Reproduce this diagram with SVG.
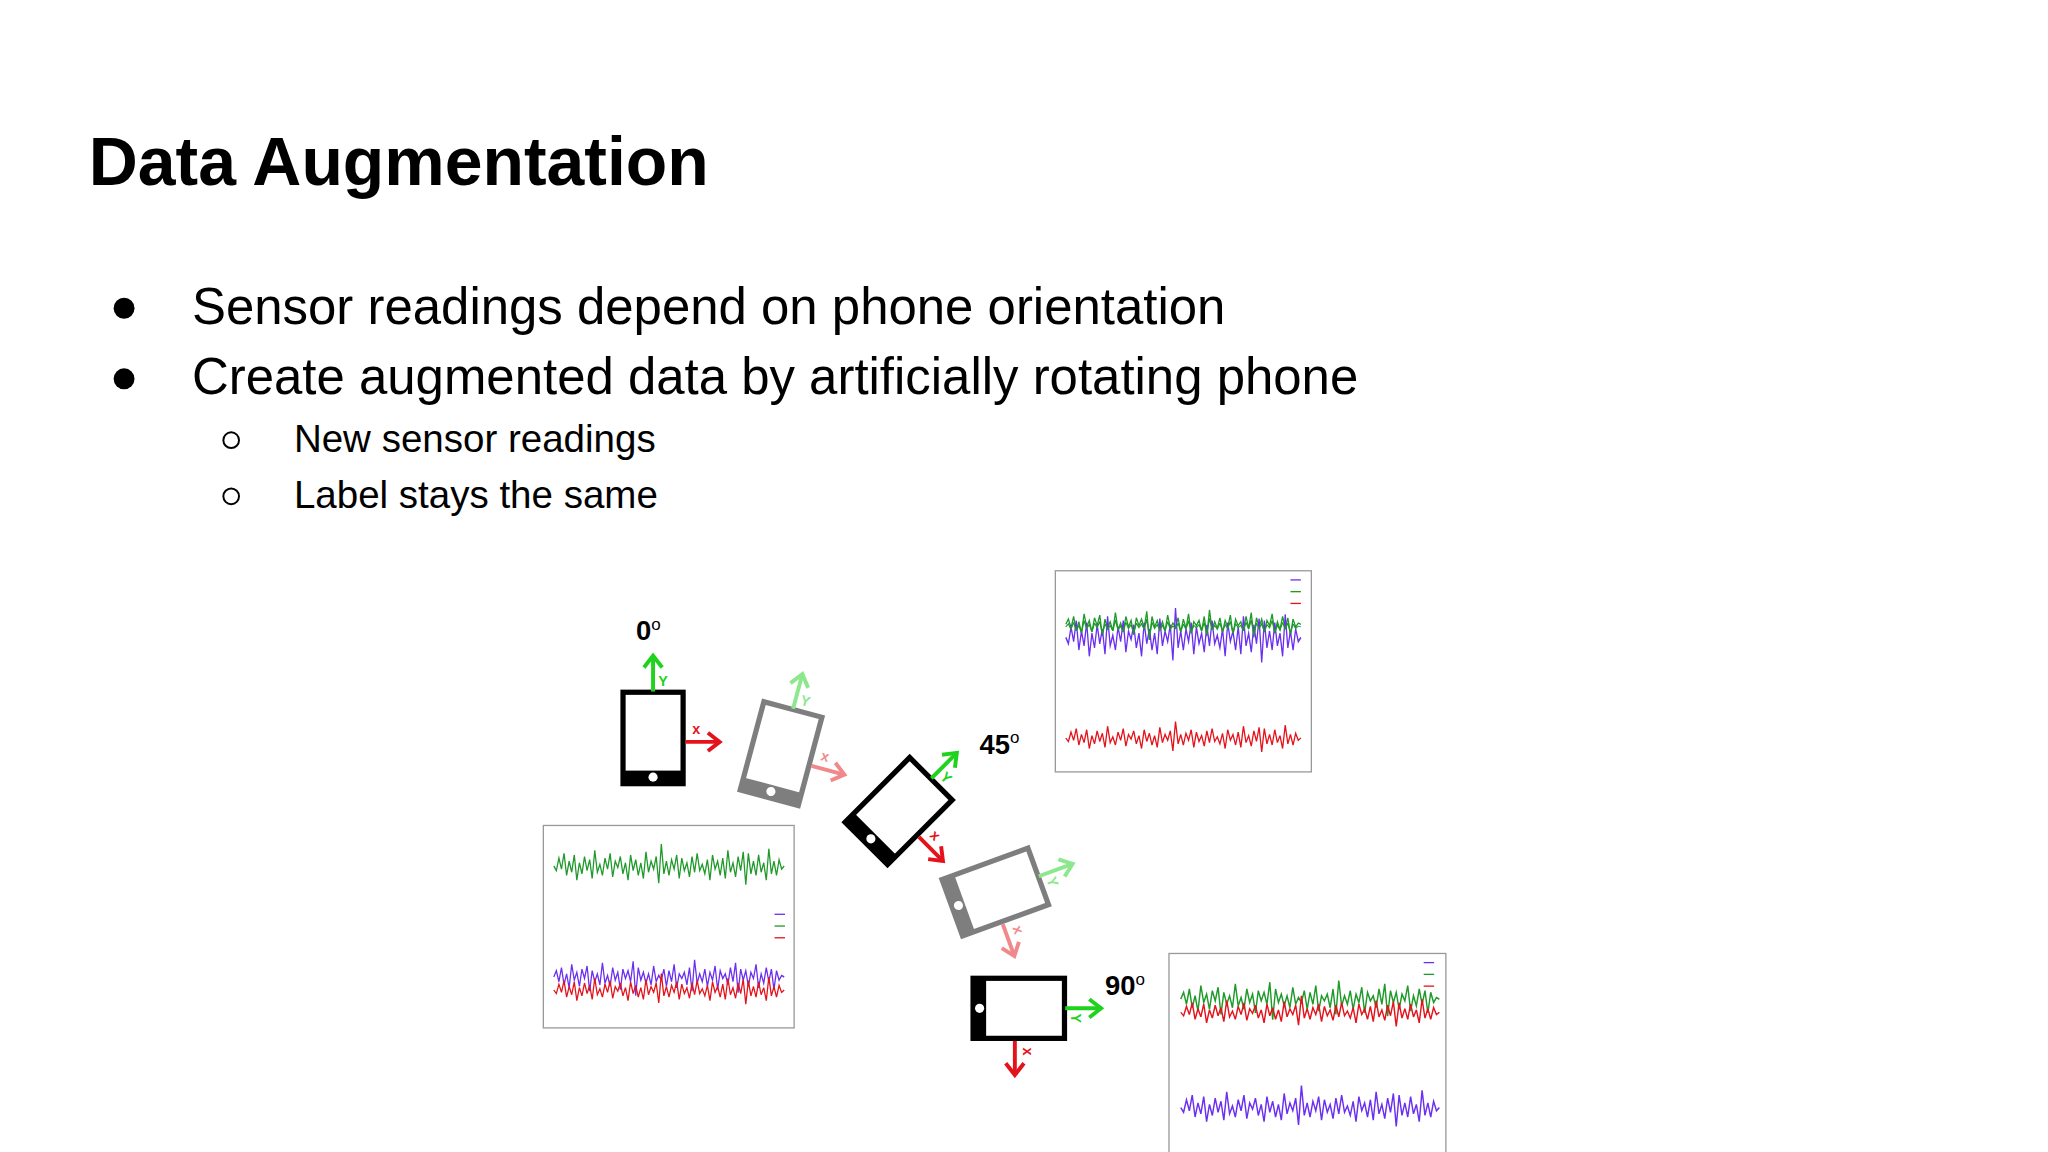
<svg xmlns="http://www.w3.org/2000/svg" xmlns:xlink="http://www.w3.org/1999/xlink" width="2048" height="1152" viewBox="0 0 2048 1152">
<style>
.t{font-family:"Liberation Sans",Arial,sans-serif;fill:#000}
.frame{fill:#fff;stroke:#999;stroke-width:1}
.n{fill:none;stroke-width:1;vector-effect:non-scaling-stroke}
.ph{fill:#fff;stroke:#000;stroke-width:4}
.ay{stroke:#1ed21e;stroke-width:3;fill:none}
.ax{stroke:#e4131b;stroke-width:3;fill:none}
.lab{font-family:"Liberation Sans",Arial,sans-serif;font-weight:bold}
</style>
<defs>
<polyline id="s1" points="0,0 2,-4 4,3 6,-6 8,5 10,-2 12,7 14,-8 16,2 18,-3 20,6 22,-5 24,1 26,-7 28,9 30,-4 32,3 34,-2 36,5 38,-9 40,4 42,-1 44,6 46,-6 48,2 50,-3 52,8 54,-5 56,1 58,-4 60,3 62,-10 64,12 66,-6 68,2 70,-3 72,4 74,-2 76,5 78,-7 80,3 82,-1 84,2 86,-5 88,6 90,-4 92,3 94,-8 96,7 98,-2 100,1 102,-3 104,5 106,-6 108,9 110,-11 112,4 114,-2 116,3 118,-5 120,6 122,-3 124,2 126,-7 128,8 130,-4 132,1 134,-2 136,5 138,-6 140,3 142,-9 144,10 146,-5 148,2 150,-4 152,6 154,-3 156,1 158,-8 160,7 162,-2 164,4 166,-6 168,3 170,-5 172,8 174,-4 176,2 178,-1 180,0"/>
<polyline id="s2" points="0,0 2,3 4,-5 6,2 8,-8 10,6 12,-3 14,4 16,-7 18,9 20,-2 22,5 24,-6 26,3 28,-4 30,8 32,-10 34,4 36,-1 38,6 40,-5 42,2 44,-8 46,7 48,-3 50,1 52,-6 54,5 56,-2 58,9 60,-7 62,3 64,-4 66,6 68,-2 70,8 72,-9 74,4 76,-3 78,2 80,-6 82,11 84,-14 86,5 88,-3 90,6 92,-4 94,2 96,-7 98,8 100,-5 102,3 104,-2 106,7 108,-6 110,4 112,-8 114,3 116,-1 118,5 120,-4 122,9 124,-7 126,2 128,-3 130,6 132,-5 134,8 136,-10 138,4 140,-2 142,7 144,-6 146,3 148,-9 150,12 152,-8 154,5 156,-3 158,6 160,-7 162,4 164,-2 166,9 168,-11 170,5 172,-3 174,6 176,-4 178,2 180,0"/>
<g id="phone">
<rect class="ph" x="-23" y="-35" width="46" height="70"/>
<rect x="-23" y="25" width="46" height="10" fill="#000"/>
<circle cx="0" cy="30" r="3.5" fill="#fff"/>
<line class="ay" x1="0" y1="-37" x2="0" y2="-62" stroke-linecap="square"/>
<polyline class="ay" points="-7,-54 0,-63 7,-54"/>
<text x="4" y="-40" font-size="11" fill="#1ed21e" class="lab">Y</text>
<line class="ax" x1="25" y1="3" x2="50" y2="3"/>
<polyline class="ax" points="42,-4 51,3 42,10"/>
<text x="30" y="-3" font-size="11" fill="#e4131b" class="lab">x</text>
</g>
</defs>
<rect width="2048" height="1152" fill="#fff"/>
<g transform="scale(1.30612)">
<g id="title"><text class="t" x="68" y="142" font-size="52" font-weight="bold">Data Augmentation</text></g>
<g id="bullets">
<circle cx="95" cy="236" r="8"/><text class="t" x="147" y="248" font-size="39">Sensor readings depend on phone orientation</text>
<circle cx="95" cy="290" r="8"/><text class="t" x="147" y="302" font-size="39">Create augmented data by artificially rotating phone</text>
<circle cx="177" cy="337" r="6" fill="none" stroke="#000" stroke-width="1.5"/><text class="t" x="225" y="346" font-size="29.5">New sensor readings</text>
<circle cx="177" cy="380" r="6" fill="none" stroke="#000" stroke-width="1.5"/><text class="t" x="225" y="389" font-size="29.5">Label stays the same</text>
</g>
<g id="chart45">
<rect class="frame" x="808" y="437" width="196" height="154"/>
<use href="#s1" class="n" stroke="#1f9a2a" transform="translate(816,478)"/>
<use href="#s2" class="n" stroke="#6a2ff0" transform="translate(816,488) scale(1,1.6)"/>
<use href="#s1" class="n" stroke="#1f9a2a" transform="translate(816,480) scale(1,0.6)"/>
<use href="#s2" class="n" stroke="#e4131b" transform="translate(816,565) scale(1,0.9)"/>
<line x1="988" y1="444" x2="996" y2="444" stroke="#6a2ff0"/><line x1="988" y1="453" x2="996" y2="453" stroke="#1f9a2a"/><line x1="988" y1="462" x2="996" y2="462" stroke="#e4131b"/>
</g>
<g id="chart0">
<rect class="frame" x="416" y="632" width="192" height="155"/>
<use href="#s2" class="n" stroke="#1f9a2a" transform="translate(424,663) scale(0.98,1.2)"/>
<use href="#s1" class="n" stroke="#6a2ff0" transform="translate(424,748) scale(0.98,1.2)"/>
<use href="#s2" class="n" stroke="#e4131b" transform="translate(424,758) scale(0.98,0.9)"/>
<line x1="593" y1="700" x2="601" y2="700" stroke="#6a2ff0"/><line x1="593" y1="709" x2="601" y2="709" stroke="#1f9a2a"/><line x1="593" y1="718" x2="601" y2="718" stroke="#e4131b"/>
</g>
<g id="chart90">
<rect class="frame" x="895" y="730" width="212" height="160"/>
<use href="#s1" class="n" stroke="#1f9a2a" transform="translate(904,765) scale(1.1,1.3)"/>
<use href="#s2" class="n" stroke="#e4131b" transform="translate(904,775) scale(1.1,0.9)"/>
<use href="#s2" class="n" stroke="#6a2ff0" transform="translate(904,848) scale(1.1,1.2)"/>
<line x1="1090" y1="737" x2="1098" y2="737" stroke="#6a2ff0"/><line x1="1090" y1="746" x2="1098" y2="746" stroke="#1f9a2a"/><line x1="1090" y1="755" x2="1098" y2="755" stroke="#e4131b"/>
</g>
<g id="phone0"><use href="#phone" transform="translate(500,565)"/></g>
<g id="phone15" opacity="0.5"><use href="#phone" transform="translate(598,577) rotate(15)"/></g>
<g id="phone45"><use href="#phone" transform="translate(688,621) rotate(45)"/></g>
<g id="phone70" opacity="0.5"><use href="#phone" transform="translate(762,683) rotate(70)"/></g>
<g id="phone90"><use href="#phone" transform="translate(780,772) rotate(90)"/></g>
<g id="labels">
<text class="lab" x="487" y="490" font-size="21">0<tspan font-size="13" dy="-8" font-weight="normal">o</tspan></text>
<text class="lab" x="750" y="577" font-size="21">45<tspan font-size="13" dy="-8" font-weight="normal">o</tspan></text>
<text class="lab" x="846" y="762" font-size="21">90<tspan font-size="13" dy="-8" font-weight="normal">o</tspan></text>
</g>
</g>
</svg>
